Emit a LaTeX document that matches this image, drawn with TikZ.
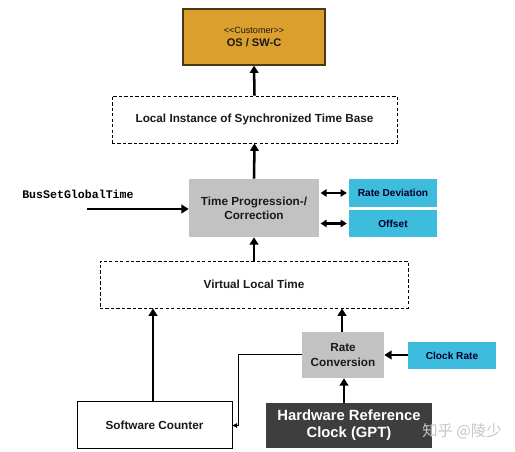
\documentclass[tikz,border=0pt]{standalone}
\usepackage{fontspec}
\setmainfont{Liberation Sans}
\setmonofont{Liberation Mono}
\newfontfamily\cjk{Noto Sans CJK SC}
\usetikzlibrary{arrows.meta}
\definecolor{custfill}{HTML}{DA9F2D}
\definecolor{custline}{HTML}{4A3A14}
\definecolor{grayfill}{HTML}{C2C2C2}
\definecolor{cyanfill}{HTML}{3DBCDD}
\definecolor{darkfill}{HTML}{3E3E3E}
\definecolor{txt}{HTML}{1A1A1A}
\begin{document}
\begin{tikzpicture}[x=0.75pt,y=-0.75pt,
  box/.style={rectangle, inner sep=0pt, align=center, text=txt, font=\fontsize{8.8}{10.6}\selectfont\bfseries},
  dbox/.style={box, draw=black, dash pattern=on 2.5pt off 1.6pt, line width=0.7pt},
  gbox/.style={box, fill=grayfill},
  cbox/.style={box, fill=cyanfill, font=\fontsize{7.6}{9}\selectfont\bfseries, text=black!85!blue},
  wbox/.style={box, draw=black, line width=0.75pt},
  arr/.style={line width=1.9pt, -{Triangle[length=5.5pt,width=6.5pt]}},
  darr/.style={line width=1.6pt, {Triangle[length=4.5pt,width=5.5pt]}-{Triangle[length=4.5pt,width=5.5pt]}},
  thin/.style={line width=0.75pt, -{Triangle[length=3.5pt,width=3.5pt]}}
]
\fill[white] (0,0) rectangle (515,452);
\useasboundingbox (0,0) rectangle (515,452);

\node[box, fill=custfill, draw=custline, line width=0.9pt, minimum width=142*0.75pt, minimum height=56*0.75pt] (cust) at (254,37)
  {{\fontsize{6.8}{8}\selectfont\mdseries <\kern0pt<Customer>\kern0pt>}\\[-0.5pt]{\fontsize{8.3}{10}\selectfont OS / SW-C}};
\node[dbox, minimum width=285*0.75pt, minimum height=47*0.75pt] (local) at (254.5,119.5) {Local Instance of Synchronized Time Base};
\node[gbox, minimum width=130*0.75pt, minimum height=58*0.75pt] (tp) at (254,208) {Time Progression-/\\Correction};
\node[cbox, minimum width=88*0.75pt, minimum height=28*0.75pt] (rd) at (393,193) {Rate Deviation};
\node[cbox, minimum width=88*0.75pt, minimum height=27*0.75pt] (off) at (393,223.5) {Offset};
\node[dbox, minimum width=308*0.75pt, minimum height=47*0.75pt] (vlt) at (254,284.5) {Virtual Local Time};
\node[gbox, minimum width=82*0.75pt, minimum height=46*0.75pt] (rc) at (343,355) {Rate\\Conversion};
\node[cbox, minimum width=88*0.75pt, minimum height=27*0.75pt] (cr) at (452,355.5) {Clock Rate};
\node[wbox, minimum width=155*0.75pt, minimum height=47*0.75pt] (sc) at (154.5,425.5) {Software Counter};
\node[box, fill=darkfill, text=white, font=\fontsize{11.1}{13}\selectfont\bfseries, minimum width=166*0.75pt, minimum height=45*0.75pt] (hw) at (349,425.5) {Hardware Reference\\Clock (GPT)};

\node[anchor=west, inner sep=0pt, font=\fontsize{8.7}{10}\selectfont\ttfamily\bfseries] (bus) at (22,194) {BusSetGlobalTime};
\coordinate (busstart) at (87,209);

\node[inner sep=0pt, text=gray!45, font=\cjk\fontsize{11.5}{13}\selectfont] (wm) at (462,431) {知乎 @陵少};

\draw[arr] (local.north) -- (cust.south);
\draw[arr] (tp.north) -- (local.south);
\draw[arr] (vlt.north) -- (tp.south);
\draw[arr] (sc.north -| 153,0) -- (vlt.south -| 153,0);
\draw[arr] (rc.north -| 342,0) -- (vlt.south -| 342,0);
\draw[arr] (hw.north -| 344,0) -- (rc.south -| 344,0);
\draw[arr] (cr.west |- rc.east) -- (rc.east);
\draw[arr] (busstart) -- (tp.west |- busstart);
\draw[darr, shorten <=1pt, shorten >=1.5pt] (tp.east |- rd) -- (rd.west);
\draw[darr, shorten <=1pt, shorten >=1.5pt] (tp.east |- off) -- (off.west);
\draw[thin] (rc.west) -- ++(-63,0) |- (sc.east);
\end{tikzpicture}
\end{document}
